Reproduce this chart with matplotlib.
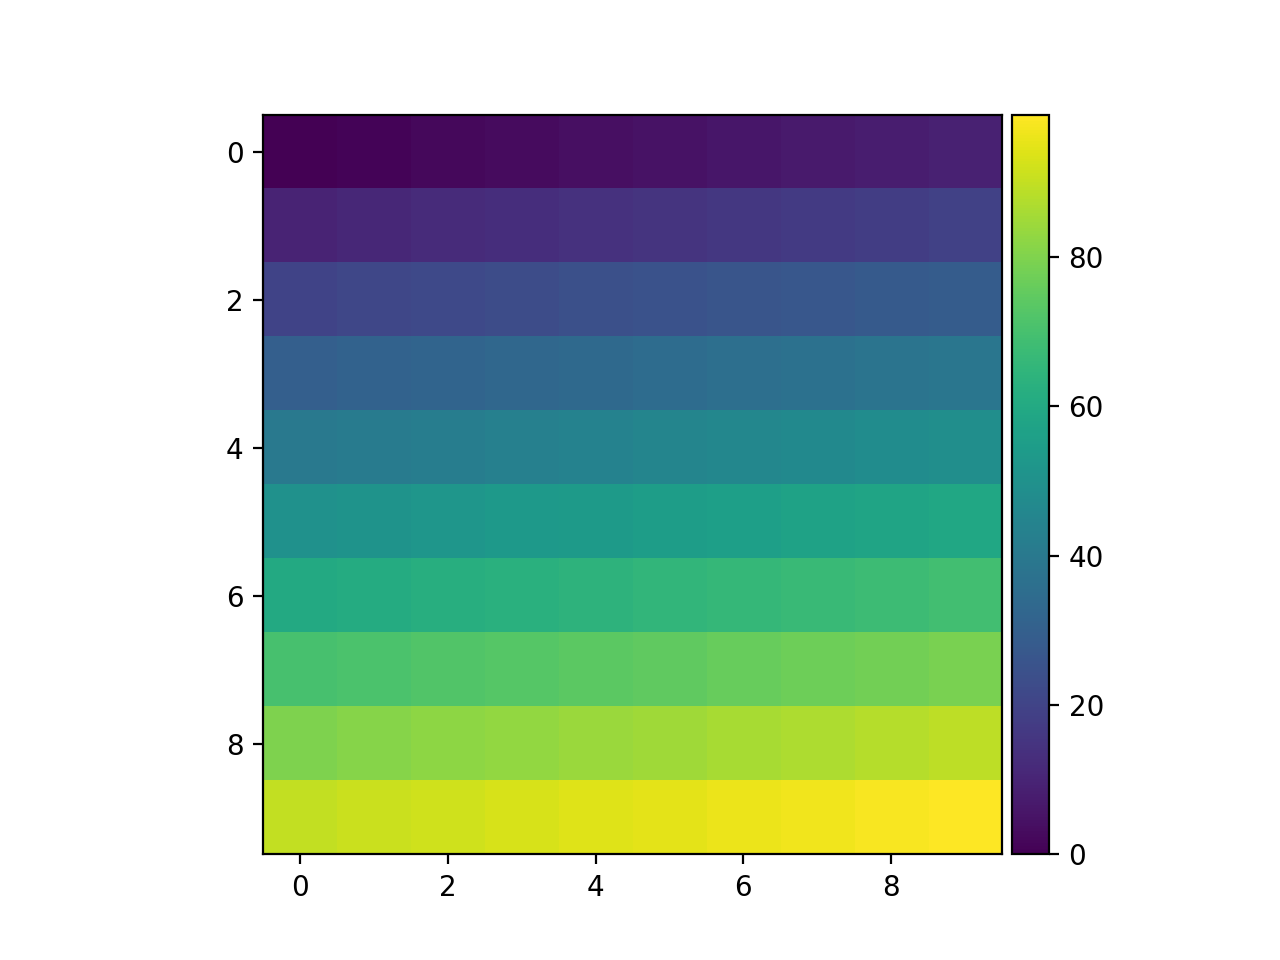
import numpy as np
import matplotlib
matplotlib.use("Agg")
import matplotlib.pyplot as plt
from mpl_toolkits.axes_grid1 import make_axes_locatable

# grid values, one list per row
row0 = [0, 1, 2, 3, 4, 5, 6, 7, 8, 9]
row1 = [10, 11, 12, 13, 14, 15, 16, 17, 18, 19]
row2 = [20, 21, 22, 23, 24, 25, 26, 27, 28, 29]
row3 = [30, 31, 32, 33, 34, 35, 36, 37, 38, 39]
row4 = [40, 41, 42, 43, 44, 45, 46, 47, 48, 49]
row5 = [50, 51, 52, 53, 54, 55, 56, 57, 58, 59]
row6 = [60, 61, 62, 63, 64, 65, 66, 67, 68, 69]
row7 = [70, 71, 72, 73, 74, 75, 76, 77, 78, 79]
row8 = [80, 81, 82, 83, 84, 85, 86, 87, 88, 89]
row9 = [90, 91, 92, 93, 94, 95, 96, 97, 98, 99]

grid = np.array([row0, row1, row2, row3, row4, row5, row6, row7, row8, row9])

fig = plt.figure(figsize=(6.4, 4.8), dpi=200)
ax = fig.add_subplot(1, 1, 1)
im = ax.imshow(grid, cmap="viridis")

divider = make_axes_locatable(ax)
cax = divider.append_axes("right", size="5%", pad=0.05)
fig.colorbar(im, cax=cax)

fig.savefig("out.png")
